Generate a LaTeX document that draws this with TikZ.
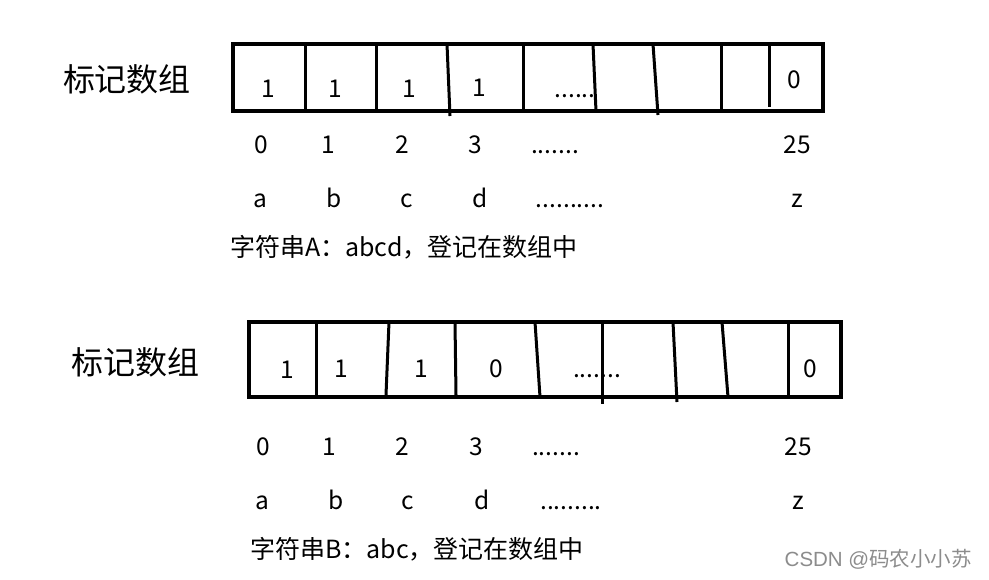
\documentclass[tikz,border=0pt]{standalone}
\usepackage{fontspec}
\setmainfont{Noto Sans CJK SC}
\newfontfamily\wmlatin{Liberation Sans}
\begin{document}
\begin{tikzpicture}[x=1pt,y=-1pt,
  frame/.style={line width=3.6pt},
  divider/.style={line width=3pt},
  lbl/.style={font=\fontsize{32}{38}\selectfont, inner sep=0pt, anchor=center},
  txt/.style={font=\fontsize{24.5}{29}\selectfont, inner sep=0pt, anchor=base},
  cell/.style={font=\fontsize{24.5}{29}\selectfont, inner sep=0pt, anchor=base},
  captext/.style={font=\fontsize{25}{30}\selectfont, inner sep=0pt, anchor=base west},
  wm/.style={font=\fontsize{20.5}{24}\selectfont, inner sep=0pt, anchor=east, text=black!45}]
\useasboundingbox (0,0) rectangle (989,579);
\fill[white] (0,0) rectangle (989,579);

% ---------- top array ----------
\node[lbl] (labA) at (127,79) {标记数组};
\draw[frame] (233,44) rectangle (823,111);
\draw[divider] (305,44) -- (305,111);
\draw[divider] (376,44) -- (376,111);
\draw[divider] (447,44) -- (450,116);
\draw[divider] (523,44) -- (523,111);
\draw[divider] (593,44) -- (596,111);
\draw[divider] (653,44) -- (658,115);
\draw[divider] (721,44) -- (721,111);
\draw[divider] (769,44) -- (769,107);

\node[cell] (a0) at (268,97) {1};
\node[cell] (a1) at (335,97) {1};
\node[cell] (a2) at (409,97) {1};
\node[cell] (a3) at (479,96) {1};
\node[cell] (adots) at (575,97) {......};
\node[cell] (a25) at (794,88) {0};

\node[txt] (ai0) at (261,153) {0};
\node[txt] (ai1) at (328,153) {1};
\node[txt] (ai2) at (402,153) {2};
\node[txt] (ai3) at (475,153) {3};
\node[txt] (aidots) at (555,153) {.......};
\node[txt] (ai25) at (797,153) {25};

\node[txt] (ac0) at (260,207) {a};
\node[txt] (ac1) at (334,207) {b};
\node[txt] (ac2) at (407,207) {c};
\node[txt] (ac3) at (480,207) {d};
\node[txt] (acdots) at (570,207) {..........};
\node[txt] (ac25) at (797,207) {z};

\node[captext] (capA) at (230,256) {字符串A：abcd，登记在数组中};

% ---------- bottom array ----------
\node[lbl] (labB) at (135,362) {标记数组};
\draw[frame] (249,322) rectangle (841,397);
\draw[divider] (316,322) -- (316,397);
\draw[divider] (389,322) -- (386,395);
\draw[divider] (455,322) -- (456,395);
\draw[divider] (535,322) -- (540,397);
\draw[divider] (602,322) -- (602,404);
\draw[divider] (673,322) -- (677,402);
\draw[divider] (722,322) -- (728,397);
\draw[divider] (788,322) -- (788,397);

\node[cell] (b0) at (287,378) {1};
\node[cell] (b1) at (341,377) {1};
\node[cell] (b2) at (421,377) {1};
\node[cell] (b3) at (496,377) {0};
\node[cell] (bdots) at (597,377) {.......};
\node[cell] (b25) at (810,377) {0};

\node[txt] (bi0) at (263,455) {0};
\node[txt] (bi1) at (329,455) {1};
\node[txt] (bi2) at (402,455) {2};
\node[txt] (bi3) at (476,455) {3};
\node[txt] (bidots) at (556,455) {.......};
\node[txt] (bi25) at (798,455) {25};

\node[txt] (bc0) at (262,509) {a};
\node[txt] (bc1) at (336,509) {b};
\node[txt] (bc2) at (408,509) {c};
\node[txt] (bc3) at (482,509) {d};
\node[txt] (bcdots) at (571,509) {.........};
\node[txt] (bc25) at (798,509) {z};

\node[captext] (capB) at (250,558) {字符串B：abc，登记在数组中};

\node[wm] (wmark) at (972,559) {{\wmlatin CSDN @}码农小小苏};
\end{tikzpicture}
\end{document}
